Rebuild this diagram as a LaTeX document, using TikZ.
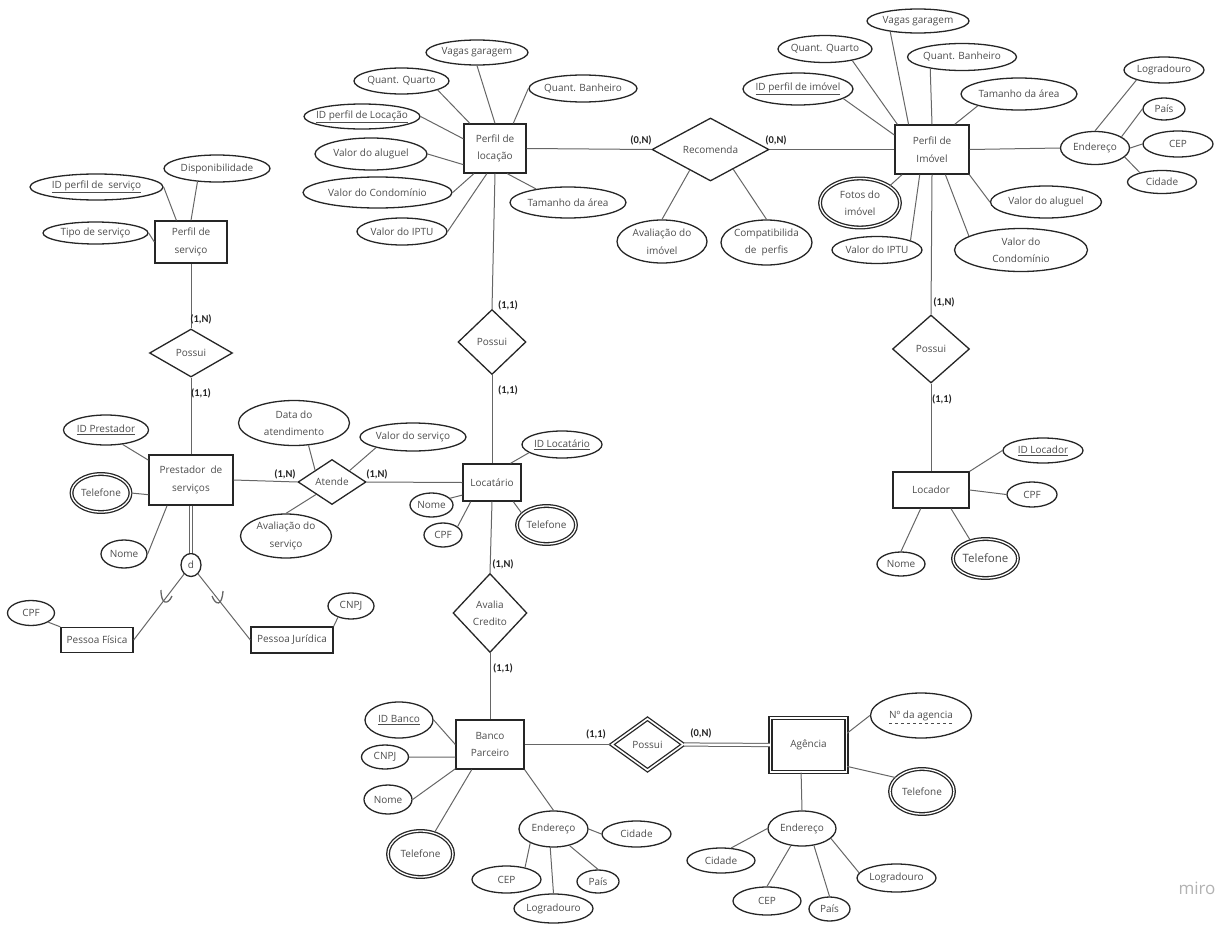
\documentclass[tikz,border=0pt]{standalone}
\usepackage{fontspec}
\setmainfont{Open Sans}
\newfontfamily\cardfont{Carlito}
\usetikzlibrary{shapes.geometric}

\begin{document}
\begin{tikzpicture}[x=1pt, y=-1pt,
    shape line/.style={draw=black!85, line width=1.3pt, text=black!70, inner sep=0pt, align=center,
      font=\fontsize{10}{17.5}\selectfont},
    entbox/.style={shape line, rectangle},
    weakbox/.style={entbox, double, double distance=1.6pt},
    relbox/.style={shape line, diamond},
    weakrel/.style={relbox, double, double distance=1.6pt},
    attr/.style={shape line, ellipse, inner sep=-9pt},
    multi/.style={attr, double, double distance=1.3pt},
    link/.style={draw=black!60, line width=1pt},
    twolink/.style={link, double, double distance=2.2pt},
    card/.style={text=black!85, inner sep=0pt, font=\cardfont\bfseries\fontsize{10.5}{12}\selectfont}
  ]
      \useasboundingbox (0,0) rectangle (1218,926);

      \node[entbox, minimum width=62pt, minimum height=49pt] (plocacao) at (495,148.5) {Perfil de\\locação};
      \node[attr, minimum width=102pt, minimum height=25pt] (lvagas) at (477,52.5) {Vagas garagem};
      \node[attr, minimum width=95pt, minimum height=26pt] (lquarto) at (401.5,81) {Quant. Quarto};
      \node[attr, minimum width=108pt, minimum height=27pt] (lbanheiro) at (583,88.5) {Quant. Banheiro};
      \node[attr, minimum width=116pt, minimum height=25pt] (lid) at (362,116.5) {\underline{ID perfil de Locação}};
      \node[attr, minimum width=112pt, minimum height=32pt] (laluguel) at (371,154) {Valor do aluguel};
      \node[attr, minimum width=149pt, minimum height=31pt] (lcondominio) at (377.5,192.5) {Valor do Condomínio};
      \node[attr, minimum width=90pt, minimum height=27pt] (liptu) at (402,231.5) {Valor do IPTU};
      \node[attr, minimum width=116pt, minimum height=31pt] (larea) at (568,202.5) {Tamanho da área};

      \node[relbox, minimum width=117pt, minimum height=59pt] (recomenda) at (710.5,149.5) {Recomenda};
      \node[attr, minimum width=90pt, minimum height=43pt] (ravaliacao) at (662,241.5) {Avaliação do\\imóvel};
      \node[attr, minimum width=91pt, minimum height=45pt] (rcompat) at (766.5,242.5) {Compatibilida\\de\ \ perfis};

      \node[entbox, minimum width=74pt, minimum height=49pt] (pimovel) at (932,149.5) {Perfil de\\Imóvel};
      \node[attr, minimum width=102pt, minimum height=24pt] (ivagas) at (918,21) {Vagas garagem};
      \node[attr, minimum width=94pt, minimum height=27pt] (iquarto) at (825,49) {Quant. Quarto};
      \node[attr, minimum width=109pt, minimum height=27pt] (ibanheiro) at (962,57) {Quant. Banheiro};
      \node[attr, minimum width=110pt, minimum height=32pt] (iid) at (798,89) {\underline{ID perfil de imóvel}};
      \node[attr, minimum width=116pt, minimum height=32pt] (iarea) at (1019,94) {Tamanho da área};
      \node[attr, minimum width=69pt, minimum height=33pt] (iend) at (1095,148) {Endereço};
      \node[attr, minimum width=80pt, minimum height=26pt] (ilogr) at (1164,70) {Logradouro};
      \node[attr, minimum width=42pt, minimum height=22pt] (ipais) at (1164,109) {País};
      \node[attr, minimum width=70pt, minimum height=26pt] (icep) at (1178,144) {CEP};
      \node[attr, minimum width=69pt, minimum height=23pt] (icidade) at (1162,182) {Cidade};
      \node[attr, minimum width=111pt, minimum height=32pt] (ialuguel) at (1046,202) {Valor do aluguel};
      \node[attr, minimum width=133pt, minimum height=43pt] (icondominio) at (1021,250) {Valor do\\Condomínio};
      \node[multi, minimum width=80pt, minimum height=49pt] (ifotos) at (860,203) {Fotos do\\imóvel};
      \node[attr, minimum width=90pt, minimum height=27pt] (iiptu) at (877,250) {Valor do IPTU};

      \node[relbox, minimum width=77pt, minimum height=68pt] (possuir) at (931,349) {Possui};
      \node[entbox, minimum width=76pt, minimum height=36pt] (locador) at (931,490) {Locador};
      \node[attr, minimum width=80pt, minimum height=25pt] (rid) at (1043,450.5) {\underline{ID Locador}};
      \node[attr, minimum width=50pt, minimum height=25pt] (rcpf) at (1032,494.5) {CPF};
      \node[attr, minimum width=48pt, minimum height=24pt] (rnome) at (901,564) {Nome};
      \node[multi, minimum width=65pt, minimum height=39pt, font=\fontsize{11.5}{14}\selectfont] (rtel) at (985.5,558.5) {Telefone};

      \node[relbox, minimum width=68pt, minimum height=65pt] (possuim) at (492,342) {Possui};
      \node[entbox, minimum width=58pt, minimum height=37pt] (locatario) at (492,482.5) {Locatário};
      \node[attr, minimum width=80pt, minimum height=27pt] (mid) at (562,444.5) {\underline{ID Locatário}};
      \node[attr, minimum width=43pt, minimum height=24pt] (mnome) at (431.5,505) {Nome};
      \node[attr, minimum width=38pt, minimum height=24pt] (mcpf) at (443,535) {CPF};
      \node[multi, minimum width=59pt, minimum height=38pt] (mtel) at (546.5,525) {Telefone};

      \node[relbox, minimum width=68pt, minimum height=45pt] (atende) at (332,482) {Atende};
      \node[attr, minimum width=111pt, minimum height=45pt] (adata) at (294,423) {Data do\\atendimento};
      \node[attr, minimum width=106pt, minimum height=28pt] (avalor) at (413,437) {Valor do serviço};
      \node[attr, minimum width=91pt, minimum height=44pt] (aaval) at (286,536) {Avaliação do\\serviço};

      \node[entbox, minimum width=84pt, minimum height=50pt] (prestador) at (191,480) {Prestador\ \ de\\serviços};
      \node[attr, minimum width=85pt, minimum height=30pt] (pid) at (106,430) {\underline{ID Prestador}};
      \node[multi, minimum width=59pt, minimum height=38pt] (ptel) at (101,493) {Telefone};
      \node[attr, minimum width=46pt, minimum height=28pt] (pnome) at (124,554) {Nome};
      \node[shape line, ellipse, minimum width=20pt, minimum height=23pt] (dnode) at (191,565) {d};
      \node[entbox, minimum width=72pt, minimum height=25pt] (pfisica) at (97,640) {Pessoa Física};
      \node[attr, minimum width=47pt, minimum height=25pt] (fcpf) at (31,613) {CPF};
      \node[entbox, minimum width=82pt, minimum height=26pt] (pjuridica) at (292,640) {Pessoa Jurídica};
      \node[attr, minimum width=46pt, minimum height=26pt] (jcnpj) at (351,606) {CNPJ};

      \node[relbox, minimum width=83pt, minimum height=48pt] (possuis) at (191,353) {Possui};
      \node[entbox, minimum width=72pt, minimum height=42pt] (pservico) at (191,242) {Perfil de\\serviço};
      \node[attr, minimum width=106pt, minimum height=27pt] (sdisp) at (217,168.5) {Disponibilidade};
      \node[attr, minimum width=133pt, minimum height=26pt] (sid) at (96.5,187) {\underline{ID perfil de\ \ serviço}};
      \node[attr, minimum width=105pt, minimum height=22pt] (stipo) at (95.5,233) {Tipo de serviço};

      \node[relbox, minimum width=74pt, minimum height=79pt] (avalia) at (490,613) {Avalia\\Credito};
      \node[entbox, minimum width=68pt, minimum height=49pt] (banco) at (490,744.5) {Banco\\Parceiro};
      \node[attr, minimum width=68pt, minimum height=36pt] (bid) at (399,720) {\underline{ID Banco}};
      \node[attr, minimum width=47pt, minimum height=24pt] (bcnpj) at (385,757) {CNPJ};
      \node[attr, minimum width=48pt, minimum height=29pt] (bnome) at (388,799.5) {Nome};
      \node[multi, minimum width=65pt, minimum height=46pt] (btel) at (420.5,854) {Telefone};
      \node[attr, minimum width=69pt, minimum height=36pt] (bend) at (553.5,829) {Endereço};
      \node[attr, minimum width=69pt, minimum height=26pt] (bcidade) at (636.5,834) {Cidade};
      \node[attr, minimum width=69pt, minimum height=27pt] (bcep) at (506.5,879.5) {CEP};
      \node[attr, minimum width=79pt, minimum height=29pt] (blogr) at (553.5,908.5) {Logradouro};
      \node[attr, minimum width=42pt, minimum height=23pt] (bpais) at (598,881.5) {País};

      \node[weakrel, minimum width=72pt, minimum height=52pt] (possuib) at (647.5,744.5) {Possui};
      \node[weakbox, minimum width=76pt, minimum height=54pt] (agencia) at (808.5,745) {Agência};
      \node[attr, minimum width=101pt, minimum height=45pt] (gnum) at (921,715.5) {Nº da agencia};
      \node[multi, minimum width=64pt, minimum height=45pt] (gtel) at (922,791.5) {Telefone};
      \node[attr, minimum width=68pt, minimum height=35pt] (gend) at (802,828.5) {Endereço};
      \node[attr, minimum width=68pt, minimum height=25pt] (gcidade) at (721,860.5) {Cidade};
      \node[attr, minimum width=68pt, minimum height=28pt] (gcep) at (767,901) {CEP};
      \node[attr, minimum width=41pt, minimum height=24pt] (gpais) at (829.5,909) {País};
      \node[attr, minimum width=79pt, minimum height=28pt] (glogr) at (896.5,878) {Logradouro};
      \draw[dashed, draw=black!70, line width=.8pt] (889,723) -- (952,723);

      \draw[link] (plocacao.north) -- (lvagas.south);
      \draw[link] (plocacao.135) -- (lquarto.-14);
      \draw[link] (plocacao.54) -- (lbanheiro.west);
      \draw[link] (plocacao.163) -- (lid.east);
      \draw[link] (plocacao.207) -- (laluguel.east);
      \draw[link] (plocacao.230) -- (lcondominio.east);
      \draw[link] (plocacao.252) -- (liptu.east);
      \draw[link] (plocacao.-64) -- (larea.157);
      \draw[link] (plocacao.east) -- (recomenda.west);
      \draw[link] (recomenda.east) -- (pimovel.west);
      \draw[link] (recomenda.225) -- (ravaliacao.north);
      \draw[link] (recomenda.-41) -- (rcompat.north);
      \draw[link] (pimovel.133) -- (ivagas.201);
      \draw[link] (pimovel.144) -- (iquarto.-23);
      \draw[link] (pimovel.north) -- (ibanheiro.200);
      \draw[link] (pimovel.159) -- (iid.-12);
      \draw[link] (pimovel.48) -- (iarea.196);
      \draw[link] (pimovel.east) -- (iend.west);
      \draw[link] (pimovel.-34) -- (ialuguel.west);
      \draw[link] (pimovel.-62) -- (icondominio.165);
      \draw[link] (pimovel.220) -- (ifotos.30);
      \draw[link] (pimovel.244) -- (iiptu.16);
      \draw[link] (iend.north) -- (ilogr.200);
      \draw[link] (iend.23) -- (ipais.west);
      \draw[link] (iend.east) -- (icep.west);
      \draw[link] (iend.-17) -- (icidade.157);
      \draw[link] (pimovel.south) -- (possuir.north);
      \draw[link] (possuir.south) -- (locador.north);
      \draw[link] (locador.north east) -- (rid.west);
      \draw[link] (locador.east) -- (rcpf.west);
      \draw[link] (locador.241) -- (rnome.north);
      \draw[link] (locador.-43) -- (rtel.130);
      \draw[link] (plocacao.south) -- (possuim.north);
      \draw[link] (possuim.south) -- (locatario.north);
      \draw[link] (locatario.46) -- (mid.194);
      \draw[link] (locatario.203) -- (mnome.20);
      \draw[link] (locatario.222) -- (mcpf.30);
      \draw[link] (locatario.-42) -- (mtel.155);
      \draw[link] (locatario.south) -- (avalia.north);
      \draw[link] (avalia.south) -- (banco.north);
      \draw[link] (atende.east) -- (locatario.west);
      \draw[link] (prestador.east) -- (atende.west);
      \draw[link] (atende.145) -- (adata.-57);
      \draw[link] (atende.33) -- (avalor.196);
      \draw[link] (atende.218) -- (aaval.north);
      \draw[link] (prestador.155) -- (pid.-41);
      \draw[link] (prestador.199) -- (ptel.east);
      \draw[link] (prestador.227) -- (pnome.east);
      \draw[twolink] (prestador.south) -- (dnode.north);
      \draw[link] (dnode) -- (pfisica.east);
      \draw[link] (dnode) -- (pjuridica.west);
      \draw[link] (pfisica.north west) -- (fcpf.-28);
      \draw[link] (pjuridica.north east) -- (jcnpj.221);
      \draw[link, line width=1.3pt] (161,590) .. controls (161,605) and (168,605) .. (172,596);
      \draw[link, line width=1.3pt] (212,596) .. controls (216,606) and (222,606) .. (223,591);
      \draw[link] (prestador.north) -- (possuis.south);
      \draw[link] (possuis.north) -- (pservico.south);
      \draw[link] (pservico.north) -- (sdisp.214);
      \draw[link] (pservico.124) -- (sid.east);
      \draw[link] (pservico.west) -- (stipo.east);
      \draw[link] (banco.west) -- (bid.east);
      \draw[link] (banco.200) -- (bcnpj.east);
      \draw[link] (banco.215) -- (bnome.east);
      \draw[link] (banco.234) -- (btel.57);
      \draw[link] (banco.south east) -- (bend.north);
      \draw[link] (bend.east) -- (bcidade.west);
      \draw[link] (bend.211) -- (bcep.33);
      \draw[link] (bend.260) -- (blogr.north);
      \draw[link] (bend.-46) -- (bpais.north);
      \draw[link] (banco.east) -- (possuib.west);
      \draw[twolink] (possuib.east) -- (agencia.west);
      \draw[link] (agencia.17) -- (gnum.west);
      \draw[link] (agencia.-29) -- (gtel.152);
      \draw[link] (agencia.255) -- (gend.north);
      \draw[link] (gend.west) -- (gcidade.51);
      \draw[link] (gend.237) -- (gcep.north);
      \draw[link] (gend.-55) -- (gpais.north);
      \draw[link] (gend.-19) -- (glogr.172);

      \node[card] (c1) at (641,140) {(0,N)};
      \node[card] (c2) at (776,140) {(0,N)};
      \node[card] (c3) at (944,302) {(1,N)};
      \node[card] (c4) at (942,399) {(1,1)};
      \node[card] (c5) at (508,305) {(1,1)};
      \node[card] (c6) at (508,390) {(1,1)};
      \node[card] (c7) at (285,474) {(1,N)};
      \node[card] (c8) at (377,474) {(1,N)};
      \node[card] (c9) at (201,319) {(1,N)};
      \node[card] (c10) at (201,393) {(1,1)};
      \node[card] (c11) at (503,564) {(1,N)};
      \node[card] (c12) at (503,668) {(1,1)};
      \node[card] (c13) at (596,734) {(1,1)};
      \node[card] (c14) at (701,733) {(0,N)};
      \node[text=black!30, inner sep=0pt, font=\fontsize{17}{20}\selectfont] (miro) at (1197,888) {miro};
\end{tikzpicture}
\end{document}
